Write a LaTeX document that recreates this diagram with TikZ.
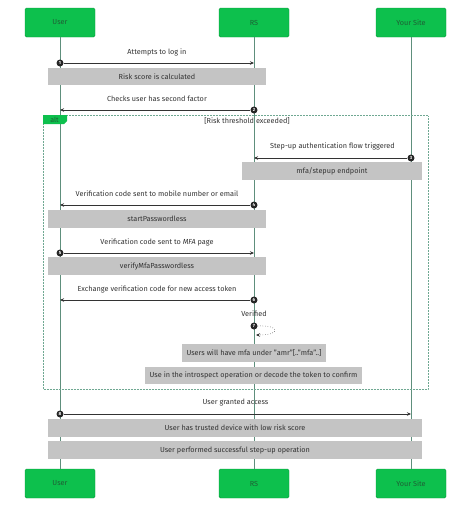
\documentclass[tikz,border=0pt]{standalone}
\usepackage{fontspec}
\setmainfont{Fira Sans}
\usetikzlibrary{arrows.meta,shapes.geometric}
\definecolor{actorgreen}{HTML}{0DC04D}
\definecolor{actorborder}{HTML}{0A9A3C}
\definecolor{actortext}{HTML}{1F5F35}
\definecolor{lifeline}{HTML}{5E8F7C}
\definecolor{notegrey}{HTML}{C4C4C4}
\definecolor{txt}{HTML}{333333}
\definecolor{framecol}{HTML}{6FA892}
\begin{document}
\begin{tikzpicture}[x=1pt,y=-1pt,
  actor/.style={draw=actorborder, fill=actorgreen, minimum width=70pt, minimum height=29pt, rounded corners=1.5pt, font=\fontsize{7.3}{8}\selectfont, text=actortext, inner sep=0pt},
  note/.style={fill=notegrey, font=\fontsize{7.3}{8}\selectfont, text=txt, inner sep=0pt, minimum height=18pt},
  msglabel/.style={font=\fontsize{7.3}{8}\selectfont, text=txt, inner sep=0pt},
  msg/.style={draw=txt, line width=0.6pt, -{Stealth[length=4pt,width=3.5pt]}},
  num/.style={circle, fill=black!85, text=white, font=\fontsize{4.5}{5}\selectfont\bfseries, inner sep=0pt, minimum size=7pt},
  life/.style={draw=lifeline, line width=0.8pt}]
\useasboundingbox (0,0) rectangle (474,507);
% actors
\node[actor] (uT) at (60,22.5) {User};
\node[actor] (rT) at (254,22.5) {RS};
\node[actor] (sT) at (411,22.5) {Your Site};
\node[actor] (uB) at (60,483.5) {User};
\node[actor] (rB) at (254,483.5) {RS};
\node[actor] (sB) at (411,483.5) {Your Site};
\draw[life] (uT.south) -- (uB.north);
\draw[life] (rT.south) -- (rB.north);
\draw[life] (sT.south) -- (sB.north);
% alt frame
\draw[framecol, densely dotted, line width=0.5pt] (43,115) rectangle (428,389);
\fill[actorgreen] (43,115) -- (67,115) -- (67,121) -- (64,124) -- (43,124) -- cycle;
\node[font=\fontsize{7}{8}\selectfont, text=actortext, inner sep=0pt] (alt) at (54.5,119.5) {alt};
\node[msglabel] (cond) at (247,121) {[Risk threshold exceeded]};
% message 1
\node[num] (n1) at (60,63) {1};
\coordinate (e1) at (254,63);
\draw[msg] (n1) -- (e1);
\node[msglabel] (l1) at (157,52) {Attempts to log in};
\node[note, minimum width=218pt, minimum height=17pt] (r1) at (157,76.5) {Risk score is calculated};
% message 2
\node[num] (n2) at (254,110) {2};
\coordinate (e2) at (60,110);
\draw[msg] (n2) -- (e2);
\node[msglabel] (l2) at (157,99) {Checks user has second factor};
% message 3
\node[num] (n3) at (411,158) {3};
\coordinate (e3) at (254,158);
\draw[msg] (n3) -- (e3);
\node[msglabel] (l3) at (332.5,146) {Step-up authentication flow triggered};
\node[note, minimum width=180pt] (r3) at (332,171) {mfa/stepup endpoint};
% message 4
\node[num] (n4) at (254,205) {4};
\coordinate (e4) at (60,205);
\draw[msg] (n4) -- (e4);
\node[msglabel] (l4) at (157,194) {Verification code sent to mobile number or email};
\node[note, minimum width=218pt] (r4) at (157,219) {startPasswordless};
% message 5
\node[num] (n5) at (60,253) {5};
\coordinate (e5) at (254,253);
\draw[msg] (n5) -- (e5);
\node[msglabel] (l5) at (157,242) {Verification code sent to \textit{MFA} page};
\node[note, minimum width=218pt] (r5) at (157,266) {verifyMfaPasswordless};
% message 6
\node[num] (n6) at (254,300) {6};
\coordinate (e6) at (60,300);
\draw[msg] (n6) -- (e6);
\node[msglabel] (l6) at (157,289) {Exchange verification code for new access token};
% message 7 self
\node[msglabel] (l7) at (254,314) {Verified};
\node[num] (n7) at (254,326) {7};
\coordinate (e7) at (256,335);
\draw[draw=txt, line width=0.5pt, dotted, -{Stealth[length=4pt,width=3.5pt]}] (n7.east) .. controls (280,325) and (282,335) .. (e7);
\node[note, minimum width=144pt] (r7a) at (254,353) {Users will have mfa under "amr"[.."mfa"..]};
\node[note, minimum width=217pt, minimum height=17pt] (r7b) at (253.5,375.5) {Use in the introspect operation or decode the token to confirm};
% message 8
\node[num] (n8) at (60,414) {8};
\coordinate (e8) at (411,414);
\draw[msg] (n8) -- (e8);
\node[msglabel] (l8) at (235.5,403) {User granted access};
\node[note, minimum width=374pt] (r8a) at (235,428) {User has trusted device with low risk score};
\node[note, minimum width=374pt] (r8b) at (235,450) {User performed successful step-up operation};
\end{tikzpicture}
\end{document}
